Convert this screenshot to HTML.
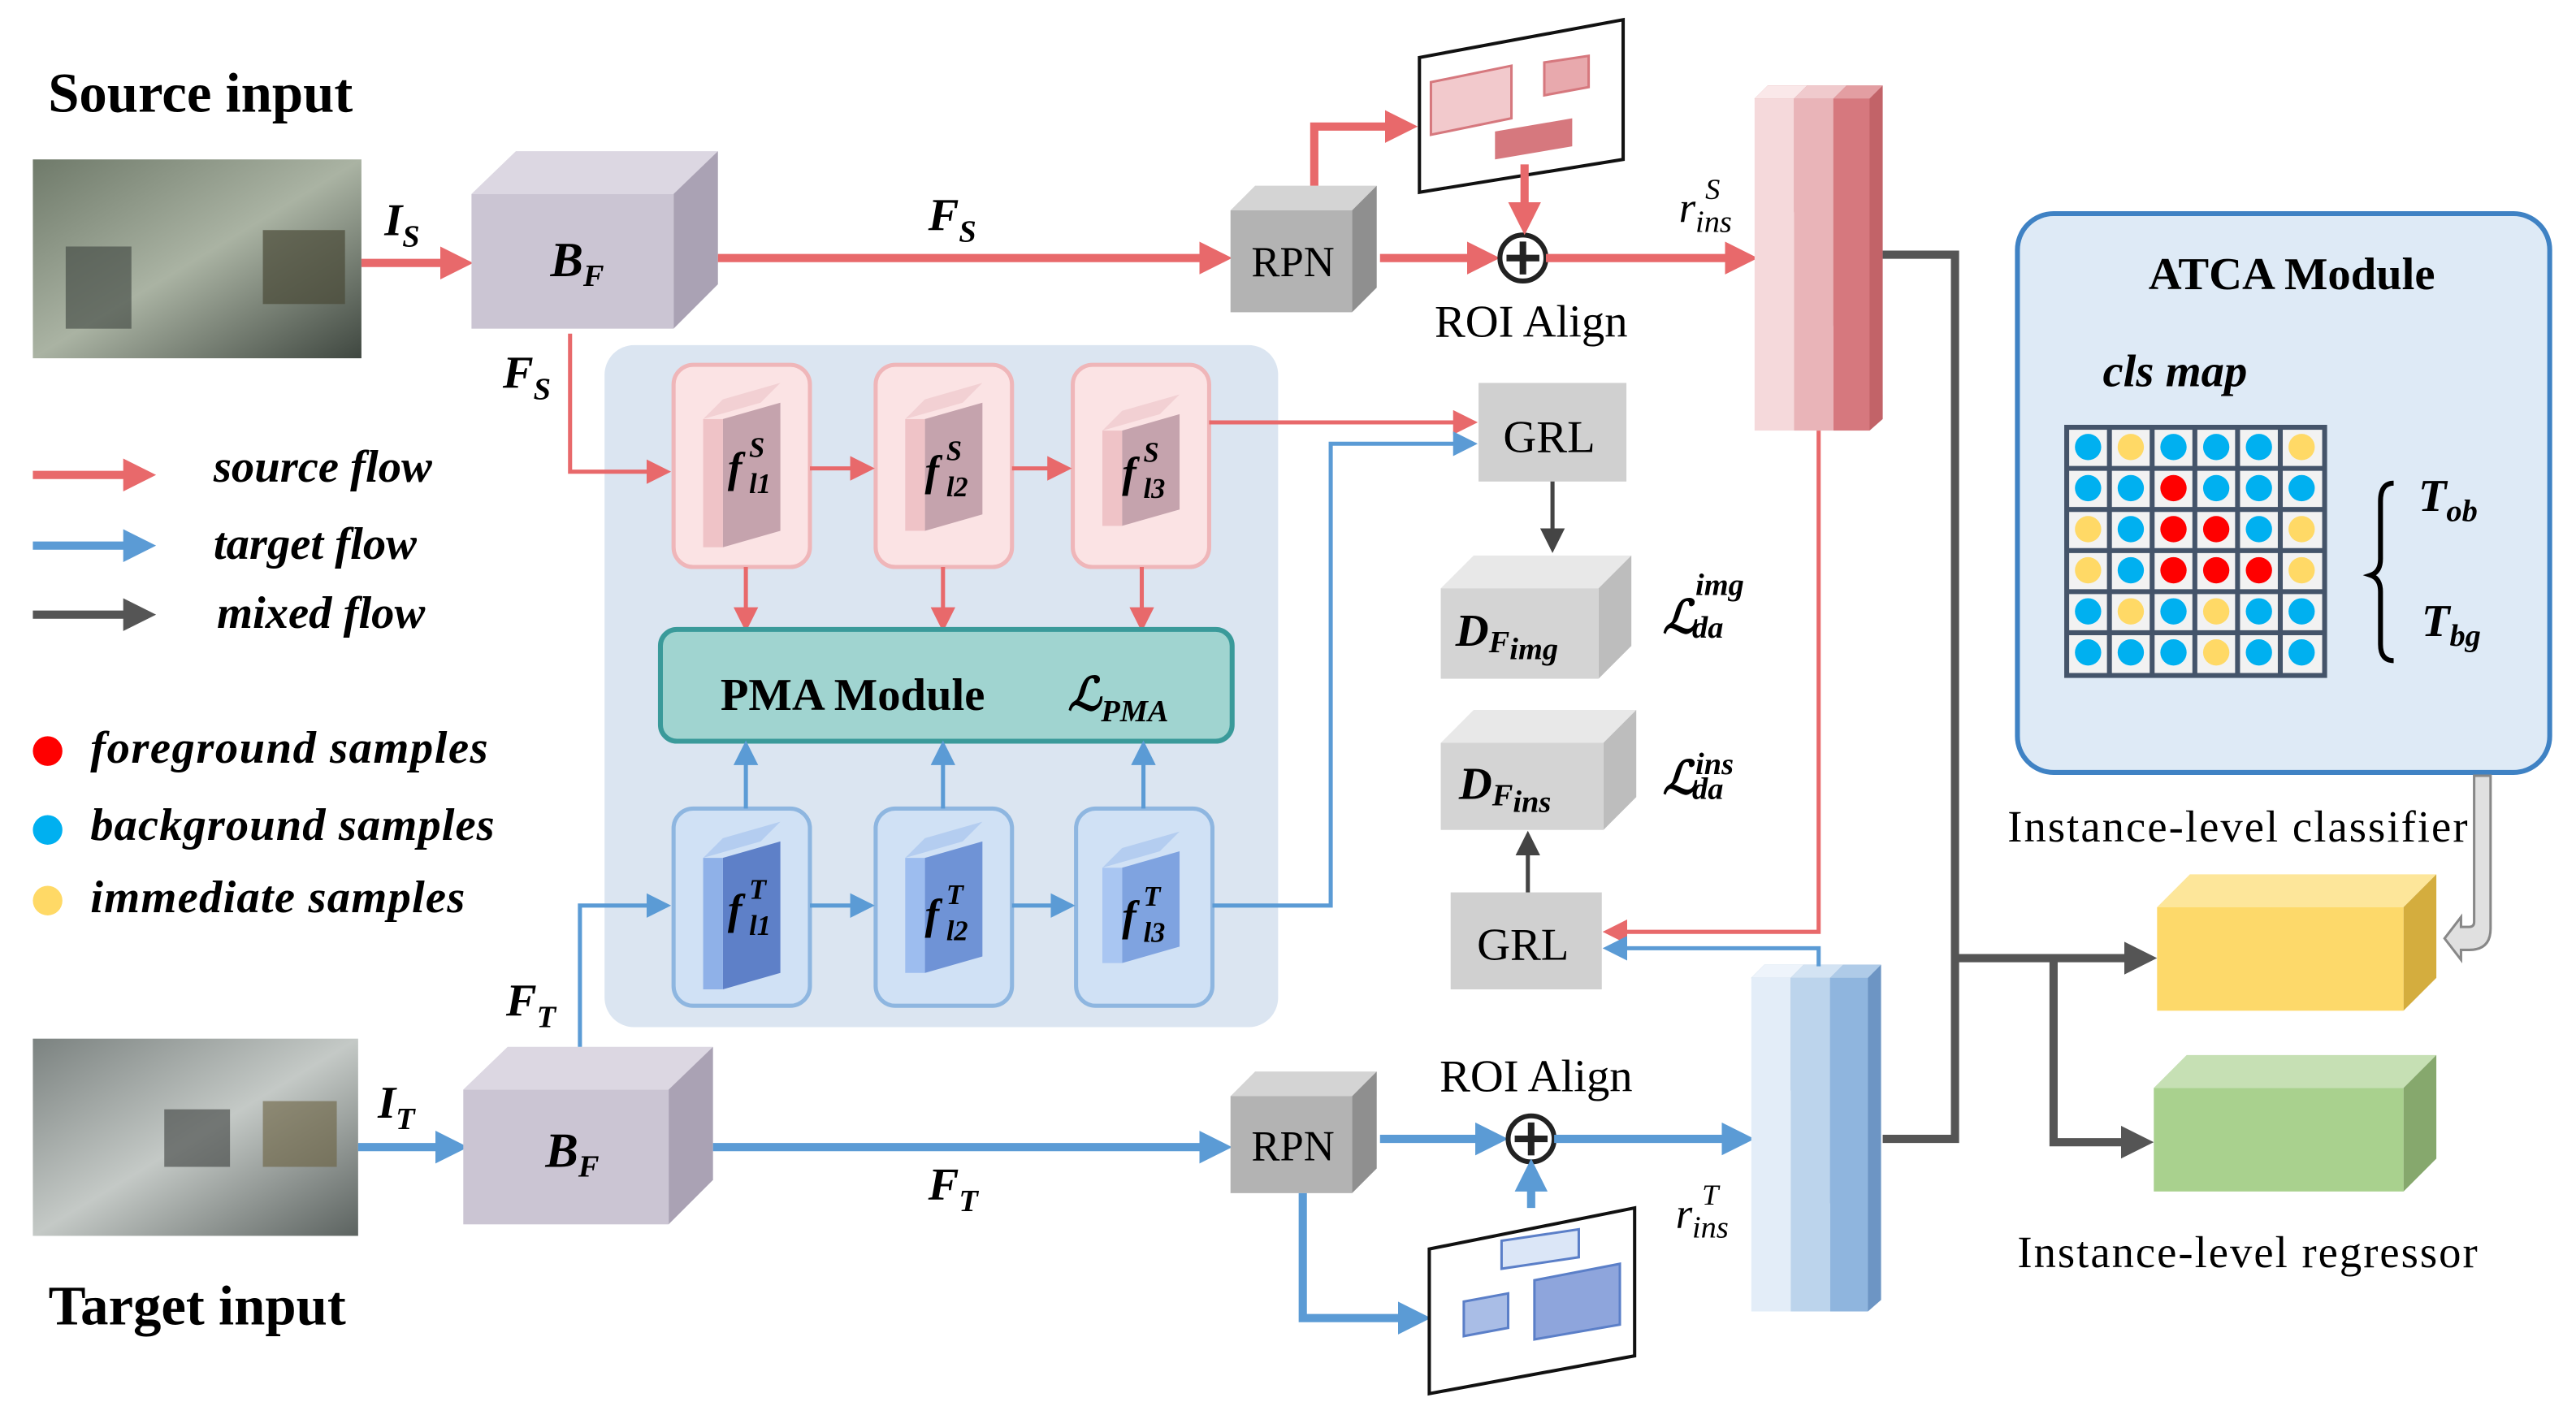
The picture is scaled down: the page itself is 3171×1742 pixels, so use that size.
<!DOCTYPE html>
<html><head><meta charset="utf-8"><style>
html,body{margin:0;padding:0;background:#fff;}
svg{display:block;}
text{font-family:"Liberation Serif",serif;}
.m{font-weight:bold;font-style:italic;}
</style></head><body>
<svg width="3171" height="1742" viewBox="0 0 1568 861" preserveAspectRatio="none" xmlns="http://www.w3.org/2000/svg">
<defs>
<marker id="ar" markerWidth="4" markerHeight="4" refX="3" refY="2" orient="auto" markerUnits="strokeWidth"><path d="M0,0 L4,2 L0,4z" fill="#e8696b"/></marker>
<marker id="ab" markerWidth="4" markerHeight="4" refX="3" refY="2" orient="auto" markerUnits="strokeWidth"><path d="M0,0 L4,2 L0,4z" fill="#5b9bd5"/></marker>
<marker id="ad" markerWidth="4" markerHeight="4" refX="3" refY="2" orient="auto" markerUnits="strokeWidth"><path d="M0,0 L4,2 L0,4z" fill="#555"/></marker>
<marker id="ar2" markerWidth="6" markerHeight="6" refX="5" refY="3" orient="auto" markerUnits="strokeWidth"><path d="M0,0 L6,3 L0,6z" fill="#e8696b"/></marker>
<marker id="ab2" markerWidth="6" markerHeight="6" refX="5" refY="3" orient="auto" markerUnits="strokeWidth"><path d="M0,0 L6,3 L0,6z" fill="#5b9bd5"/></marker>
<marker id="ad2" markerWidth="6" markerHeight="6" refX="5" refY="3" orient="auto" markerUnits="strokeWidth"><path d="M0,0 L6,3 L0,6z" fill="#444"/></marker>
<linearGradient id="img1" x1="0" y1="0" x2="1" y2="1"><stop offset="0" stop-color="#6f7a6a"/><stop offset="0.5" stop-color="#aab3a3"/><stop offset="1" stop-color="#3f4740"/></linearGradient>
<linearGradient id="img2" x1="0" y1="0" x2="1" y2="1"><stop offset="0" stop-color="#7b8280"/><stop offset="0.5" stop-color="#c4c9c6"/><stop offset="1" stop-color="#5c6360"/></linearGradient>
</defs>

<text x="122" y="68" font-size="34" font-weight="bold" text-anchor="middle">Source input</text>
<text x="120" y="806" font-size="34" font-weight="bold" text-anchor="middle">Target input</text>

<rect x="20" y="97" width="200" height="121" fill="url(#img1)"/>
<rect x="40" y="150" width="40" height="50" fill="#3c433d" opacity="0.6"/>
<rect x="160" y="140" width="50" height="45" fill="#4a4a38" opacity="0.7"/>
<rect x="20" y="632" width="198" height="120" fill="url(#img2)"/>
<rect x="100" y="675" width="40" height="35" fill="#3c403e" opacity="0.6"/>
<rect x="160" y="670" width="45" height="40" fill="#6a6040" opacity="0.6"/>

<line x1="20" y1="289" x2="90" y2="289" stroke="#e8696b" stroke-width="5" marker-end="url(#ar)"/>
<line x1="20" y1="332" x2="90" y2="332" stroke="#5b9bd5" stroke-width="5" marker-end="url(#ab)"/>
<line x1="20" y1="374" x2="90" y2="374" stroke="#555" stroke-width="5" marker-end="url(#ad)"/>
<text x="130" y="293" font-size="28" class="m">source flow</text>
<text x="130" y="340" font-size="28" class="m">target flow</text>
<text x="132" y="382" font-size="28" class="m">mixed flow</text>
<circle cx="29" cy="457" r="9" fill="#ff0000"/>
<circle cx="29" cy="505" r="9" fill="#00b0f0"/>
<circle cx="29" cy="548" r="9" fill="#ffd966"/>
<text x="55" y="464" font-size="28" class="m" textLength="242">foreground samples</text>
<text x="55" y="511" font-size="28" class="m" textLength="246">background samples</text>
<text x="55" y="555" font-size="28" class="m" textLength="228">immediate samples</text>

<line x1="220" y1="160" x2="283" y2="160" stroke="#e8696b" stroke-width="5" marker-end="url(#ar)"/>
<text x="234" y="143" font-size="28" class="m">I<tspan font-size="19" dy="7">S</tspan></text>
<line x1="218" y1="698" x2="280" y2="698" stroke="#5b9bd5" stroke-width="5" marker-end="url(#ab)"/>
<text x="230" y="680" font-size="28" class="m">I<tspan font-size="19" dy="7">T</tspan></text>

<g>
<polygon points="287,118 314,92 437,92 410,118" fill="#dcd7e2"/>
<polygon points="410,118 437,92 437,173 410,200" fill="#aaa2b4"/>
<rect x="287" y="118" width="123" height="82" fill="#cbc5d3"/>
<text x="335" y="168" font-size="30" class="m">B<tspan font-size="19" dy="6">F</tspan></text>
</g>
<g>
<polygon points="282,663 309,637 434,637 407,663" fill="#dcd7e2"/>
<polygon points="407,663 434,637 434,718 407,745" fill="#aaa2b4"/>
<rect x="282" y="663" width="125" height="82" fill="#cbc5d3"/>
<text x="332" y="710" font-size="30" class="m">B<tspan font-size="19" dy="6">F</tspan></text>
</g>

<line x1="437" y1="157" x2="745" y2="157" stroke="#e8696b" stroke-width="5" marker-end="url(#ar)"/>
<text x="565" y="140" font-size="28" class="m">F<tspan font-size="19" dy="7">S</tspan></text>
<line x1="434" y1="698" x2="745" y2="698" stroke="#5b9bd5" stroke-width="5" marker-end="url(#ab)"/>
<text x="565" y="730" font-size="28" class="m">F<tspan font-size="19" dy="7">T</tspan></text>

<g>
<polygon points="749,128 764,113 838,113 823,128" fill="#d4d4d4"/>
<polygon points="823,128 838,113 838,175 823,190" fill="#8f8f8f"/>
<rect x="749" y="128" width="74" height="62" fill="#b3b3b3"/>
<text x="787" y="168" font-size="26" text-anchor="middle">RPN</text>
</g>
<g>
<polygon points="749,667 764,652 838,652 823,667" fill="#d4d4d4"/>
<polygon points="823,667 838,652 838,711 823,726" fill="#8f8f8f"/>
<rect x="749" y="667" width="74" height="59" fill="#b3b3b3"/>
<text x="787" y="706" font-size="26" text-anchor="middle">RPN</text>
</g>

<line x1="840" y1="157" x2="908" y2="157" stroke="#e8696b" stroke-width="5" marker-end="url(#ar)"/>
<circle cx="927" cy="157" r="14" fill="#fff" stroke="#222" stroke-width="3"/>
<path d="M917,157 H937 M927,147 V167" stroke="#222" stroke-width="4"/>
<line x1="941" y1="157" x2="1065" y2="157" stroke="#e8696b" stroke-width="5" marker-end="url(#ar)"/>
<text x="932" y="205" font-size="28" text-anchor="middle">ROI Align</text>
<path d="M800,113 V77 H858" fill="none" stroke="#e8696b" stroke-width="5" marker-end="url(#ar)"/>
<polygon points="864,35 988,12 988,97 864,117" fill="#fff" stroke="#111" stroke-width="2"/>
<polygon points="871,50 920,40 920,72 871,82" fill="#f2c9cc" stroke="#d6787e" stroke-width="1.5"/>
<polygon points="940,38 967,34 967,53 940,58" fill="#e8a9ad" stroke="#d6787e" stroke-width="1.5"/>
<polygon points="910,80 957,72 957,89 910,97" fill="#d6787e"/>
<line x1="928" y1="100" x2="928" y2="138" stroke="#e8696b" stroke-width="5" marker-end="url(#ar)"/>
<text x="1022" y="135" font-size="26" font-style="italic">r</text>
<text x="1032" y="141" font-size="19" font-style="italic">ins</text>
<text x="1038" y="121" font-size="18" font-style="italic">S</text>

<line x1="840" y1="693" x2="913" y2="693" stroke="#5b9bd5" stroke-width="5" marker-end="url(#ab)"/>
<circle cx="932" cy="693" r="14" fill="#fff" stroke="#222" stroke-width="3"/>
<path d="M922,693 H942 M932,683 V703" stroke="#222" stroke-width="4"/>
<line x1="946" y1="693" x2="1063" y2="693" stroke="#5b9bd5" stroke-width="5" marker-end="url(#ab)"/>
<text x="935" y="664" font-size="28" text-anchor="middle">ROI Align</text>
<path d="M793,726 V802 H866" fill="none" stroke="#5b9bd5" stroke-width="5" marker-end="url(#ab)"/>
<polygon points="870,760 995,735 995,825 870,848" fill="#fff" stroke="#111" stroke-width="2"/>
<polygon points="914,755 961,748 961,765 914,772" fill="#dbe6f7" stroke="#5b7fc8" stroke-width="1.5"/>
<polygon points="891,792 918,787 918,808 891,813" fill="#a9bde6" stroke="#5b7fc8" stroke-width="1.5"/>
<polygon points="934,779 986,769 986,806 934,815" fill="#8ea5dc" stroke="#5b7fc8" stroke-width="1.5"/>
<line x1="932" y1="735" x2="932" y2="710" stroke="#5b9bd5" stroke-width="5" marker-end="url(#ab)"/>
<text x="1020" y="747" font-size="26" font-style="italic">r</text>
<text x="1030" y="753" font-size="19" font-style="italic">ins</text>
<text x="1036" y="733" font-size="18" font-style="italic">T</text>

<polygon points="1068,60 1076,52 1146,52 1146,255 1138,262" fill="#c26368"/>
<rect x="1068" y="60" width="24" height="202" fill="#f5d9db"/>
<polygon points="1068,60 1076,52 1100,52 1092,60" fill="#fae8e9"/>
<rect x="1092" y="60" width="24" height="202" fill="#e9b4b8"/>
<polygon points="1092,60 1100,52 1124,52 1116,60" fill="#f0cacd"/>
<rect x="1116" y="60" width="22" height="202" fill="#d6787e"/>
<polygon points="1116,60 1124,52 1146,52 1138,60" fill="#e39ea2"/>
<polygon points="1066,595 1074,587 1145,587 1145,791 1137,798" fill="#6d95c4"/>
<rect x="1066" y="595" width="24" height="203" fill="#e3edf8"/>
<polygon points="1066,595 1074,587 1098,587 1090,595" fill="#eef4fb"/>
<rect x="1090" y="595" width="24" height="203" fill="#bcd4ec"/>
<polygon points="1090,595 1098,587 1122,587 1114,595" fill="#d3e3f3"/>
<rect x="1114" y="595" width="23" height="203" fill="#8fb5de"/>
<polygon points="1114,595 1122,587 1145,587 1137,595" fill="#afcbe8"/>

<path d="M1146,155 H1190 V693 H1146" fill="none" stroke="#555" stroke-width="5"/>
<line x1="1190" y1="583" x2="1308" y2="583" stroke="#555" stroke-width="5" marker-end="url(#ad)"/>
<path d="M1250,583 V695 H1306" fill="none" stroke="#555" stroke-width="5" marker-end="url(#ad)"/>

<rect x="1228" y="130" width="324" height="340" rx="22" fill="#deeaf6" stroke="#3f82c4" stroke-width="3"/>
<text x="1395" y="176" font-size="28" font-weight="bold" text-anchor="middle">ATCA Module</text>
<text x="1280" y="235" font-size="28" class="m">cls map</text>
<rect x="1258" y="260" width="157" height="151" fill="#f2f2f2" stroke="#44546a" stroke-width="3"/>
<path d="M1284,260V411 M1310,260V411 M1336,260V411 M1362,260V411 M1388,260V411 M1258,285H1415 M1258,310H1415 M1258,335H1415 M1258,360H1415 M1258,385H1415" stroke="#44546a" stroke-width="3"/>
<g>
<circle cx="1271" cy="272" r="8" fill="#00b0f0"/><circle cx="1297" cy="272" r="8" fill="#ffd966"/><circle cx="1323" cy="272" r="8" fill="#00b0f0"/><circle cx="1349" cy="272" r="8" fill="#00b0f0"/><circle cx="1375" cy="272" r="8" fill="#00b0f0"/><circle cx="1401" cy="272" r="8" fill="#ffd966"/>
<circle cx="1271" cy="297" r="8" fill="#00b0f0"/><circle cx="1297" cy="297" r="8" fill="#00b0f0"/><circle cx="1323" cy="297" r="8" fill="#ff0000"/><circle cx="1349" cy="297" r="8" fill="#00b0f0"/><circle cx="1375" cy="297" r="8" fill="#00b0f0"/><circle cx="1401" cy="297" r="8" fill="#00b0f0"/>
<circle cx="1271" cy="322" r="8" fill="#ffd966"/><circle cx="1297" cy="322" r="8" fill="#00b0f0"/><circle cx="1323" cy="322" r="8" fill="#ff0000"/><circle cx="1349" cy="322" r="8" fill="#ff0000"/><circle cx="1375" cy="322" r="8" fill="#00b0f0"/><circle cx="1401" cy="322" r="8" fill="#ffd966"/>
<circle cx="1271" cy="347" r="8" fill="#ffd966"/><circle cx="1297" cy="347" r="8" fill="#00b0f0"/><circle cx="1323" cy="347" r="8" fill="#ff0000"/><circle cx="1349" cy="347" r="8" fill="#ff0000"/><circle cx="1375" cy="347" r="8" fill="#ff0000"/><circle cx="1401" cy="347" r="8" fill="#ffd966"/>
<circle cx="1271" cy="372" r="8" fill="#00b0f0"/><circle cx="1297" cy="372" r="8" fill="#ffd966"/><circle cx="1323" cy="372" r="8" fill="#00b0f0"/><circle cx="1349" cy="372" r="8" fill="#ffd966"/><circle cx="1375" cy="372" r="8" fill="#00b0f0"/><circle cx="1401" cy="372" r="8" fill="#00b0f0"/>
<circle cx="1271" cy="397" r="8" fill="#00b0f0"/><circle cx="1297" cy="397" r="8" fill="#00b0f0"/><circle cx="1323" cy="397" r="8" fill="#00b0f0"/><circle cx="1349" cy="397" r="8" fill="#ffd966"/><circle cx="1375" cy="397" r="8" fill="#00b0f0"/><circle cx="1401" cy="397" r="8" fill="#00b0f0"/>
</g>
<path d="M1457,294 Q1449,294 1449,305 V340 Q1449,348 1443,350 Q1449,352 1449,360 V392 Q1449,402 1457,402" fill="none" stroke="#000" stroke-width="3"/>
<text x="1472" y="311" font-size="28" class="m">T<tspan font-size="19" dy="6">ob</tspan></text>
<text x="1474" y="387" font-size="28" class="m">T<tspan font-size="19" dy="6">bg</tspan></text>
<text x="1362" y="512" font-size="27" text-anchor="middle" textLength="280">Instance-level classifier</text>

<path d="M1516,472 V565 Q1516,578 1503,578 H1498 V584 L1488,571 L1498,558 V564 H1503 Q1506,564 1506,561 V472 Z" fill="#e0e0e0" stroke="#888" stroke-width="1.5"/>

<polygon points="1313,552 1333,532 1483,532 1463,552" fill="#fde69a"/>
<polygon points="1463,552 1483,532 1483,595 1463,615" fill="#d4ad3e"/>
<rect x="1313" y="552" width="150" height="63" fill="#fdd96a"/>
<polygon points="1311,662 1331,642 1483,642 1463,662" fill="#c6e0b4"/>
<polygon points="1463,662 1483,642 1483,705 1463,725" fill="#86a86d"/>
<rect x="1311" y="662" width="152" height="63" fill="#a9d18e"/>
<text x="1368" y="771" font-size="27" text-anchor="middle" textLength="280">Instance-level regressor</text>

<rect x="368" y="210" width="410" height="415" rx="18" fill="#dbe5f1"/>
<text x="306" y="236" font-size="28" class="m">F<tspan font-size="19" dy="7">S</tspan></text>
<path d="M347,203 V287 H406" fill="none" stroke="#e8696b" stroke-width="2.5" marker-end="url(#ar2)"/>
<text x="308" y="618" font-size="28" class="m">F<tspan font-size="19" dy="7">T</tspan></text>
<path d="M353,637 V551 H406" fill="none" stroke="#5b9bd5" stroke-width="2.5" marker-end="url(#ab2)"/>

<g fill="#fbe3e4" stroke="#efb6b9" stroke-width="2.5">
<rect x="410" y="222" width="83" height="123" rx="12"/>
<rect x="533" y="222" width="83" height="123" rx="12"/>
<rect x="653" y="222" width="83" height="123" rx="12"/>
</g>
<g>
<polygon points="428,255 440,243 475,233 463,245" fill="#f2d0d3"/>
<polygon points="440,255 475,245 475,323 440,333" fill="#c5a3ad"/><rect x="428" y="255" width="12" height="78" fill="#efc3c7"/>
<polygon points="551,255 563,243 598,233 586,245" fill="#f2d0d3"/>
<polygon points="563,255 598,245 598,313 563,323" fill="#c5a3ad"/><rect x="551" y="255" width="12" height="68" fill="#efc3c7"/>
<polygon points="671,262 683,250 718,240 706,252" fill="#f2d0d3"/>
<polygon points="683,262 718,252 718,310 683,320" fill="#c5a3ad"/><rect x="671" y="262" width="12" height="58" fill="#efc3c7"/>
</g>
<text x="443" y="293" font-size="26" class="m">f</text><text x="456" y="300" font-size="17" class="m">l1</text><text x="456" y="278" font-size="17" class="m">S</text>
<text x="563" y="295" font-size="26" class="m">f</text><text x="576" y="302" font-size="17" class="m">l2</text><text x="576" y="280" font-size="17" class="m">S</text>
<text x="683" y="296" font-size="26" class="m">f</text><text x="696" y="303" font-size="17" class="m">l3</text><text x="696" y="281" font-size="17" class="m">S</text>
<line x1="493" y1="285" x2="530" y2="285" stroke="#e8696b" stroke-width="2.5" marker-end="url(#ar2)"/>
<line x1="616" y1="285" x2="650" y2="285" stroke="#e8696b" stroke-width="2.5" marker-end="url(#ar2)"/>
<line x1="454" y1="345" x2="454" y2="382" stroke="#e8696b" stroke-width="2.5" marker-end="url(#ar2)"/>
<line x1="574" y1="345" x2="574" y2="382" stroke="#e8696b" stroke-width="2.5" marker-end="url(#ar2)"/>
<line x1="695" y1="345" x2="695" y2="382" stroke="#e8696b" stroke-width="2.5" marker-end="url(#ar2)"/>

<rect x="402" y="383" width="348" height="68" rx="10" fill="#a0d4d0" stroke="#3a9a9a" stroke-width="3"/>
<text x="519" y="432" font-size="28" font-weight="bold" text-anchor="middle">PMA Module</text>
<text x="650" y="432" font-size="28" class="m">ℒ<tspan font-size="19" dy="7">PMA</tspan></text>

<g fill="#d0e1f5" stroke="#8eb6e0" stroke-width="2.5">
<rect x="410" y="492" width="83" height="120" rx="12"/>
<rect x="533" y="492" width="83" height="120" rx="12"/>
<rect x="655" y="492" width="83" height="120" rx="12"/>
</g>
<g>
<polygon points="428,522 440,510 475,500 463,512" fill="#b4cdf0"/>
<polygon points="440,522 475,512 475,592 440,602" fill="#5e80c8"/><rect x="428" y="522" width="12" height="80" fill="#8fb1e8"/>
<polygon points="551,522 563,510 598,500 586,512" fill="#b4cdf0"/>
<polygon points="563,522 598,512 598,582 563,592" fill="#6f93d6"/><rect x="551" y="522" width="12" height="70" fill="#9dbdef"/>
<polygon points="671,528 683,516 718,506 706,518" fill="#b4cdf0"/>
<polygon points="683,528 718,518 718,576 683,586" fill="#7fa3e0"/><rect x="671" y="528" width="12" height="58" fill="#a9c6f2"/>
</g>
<text x="443" y="562" font-size="26" class="m">f</text><text x="456" y="569" font-size="17" class="m">l1</text><text x="456" y="547" font-size="17" class="m">T</text>
<text x="563" y="565" font-size="26" class="m">f</text><text x="576" y="572" font-size="17" class="m">l2</text><text x="576" y="550" font-size="17" class="m">T</text>
<text x="683" y="566" font-size="26" class="m">f</text><text x="696" y="573" font-size="17" class="m">l3</text><text x="696" y="551" font-size="17" class="m">T</text>
<line x1="493" y1="551" x2="530" y2="551" stroke="#5b9bd5" stroke-width="2.5" marker-end="url(#ab2)"/>
<line x1="616" y1="551" x2="652" y2="551" stroke="#5b9bd5" stroke-width="2.5" marker-end="url(#ab2)"/>
<line x1="454" y1="492" x2="454" y2="453" stroke="#5b9bd5" stroke-width="2.5" marker-end="url(#ab2)"/>
<line x1="574" y1="492" x2="574" y2="453" stroke="#5b9bd5" stroke-width="2.5" marker-end="url(#ab2)"/>
<line x1="696" y1="492" x2="696" y2="453" stroke="#5b9bd5" stroke-width="2.5" marker-end="url(#ab2)"/>

<line x1="736" y1="257" x2="897" y2="257" stroke="#e8696b" stroke-width="2.5" marker-end="url(#ar2)"/>
<path d="M738,551 H810 V270 H897" fill="none" stroke="#5b9bd5" stroke-width="2.5" marker-end="url(#ab2)"/>
<rect x="900" y="233" width="90" height="60" fill="#d0d0d0"/>
<text x="943" y="275" font-size="28" text-anchor="middle">GRL</text>
<line x1="945" y1="293" x2="945" y2="334" stroke="#444" stroke-width="2.5" marker-end="url(#ad2)"/>

<polygon points="877,358 897,338 993,338 973,358" fill="#e8e8e8"/>
<polygon points="973,358 993,338 993,393 973,413" fill="#bdbdbd"/>
<rect x="877" y="358" width="96" height="55" fill="#d4d4d4"/>
<text x="886" y="393" font-size="28" class="m">D<tspan font-size="19" dy="4">F</tspan><tspan font-size="19" dy="4">img</tspan></text>
<polygon points="877,452 897,432 996,432 976,452" fill="#e8e8e8"/>
<polygon points="976,452 996,432 996,485 976,505" fill="#bdbdbd"/>
<rect x="877" y="452" width="99" height="53" fill="#d4d4d4"/>
<text x="888" y="486" font-size="28" class="m">D<tspan font-size="19" dy="4">F</tspan><tspan font-size="19" dy="4">ins</tspan></text>
<text x="1012" y="385" font-size="28" class="m">ℒ</text><text x="1030" y="388" font-size="19" class="m">da</text><text x="1032" y="362" font-size="19" class="m">img</text>
<text x="1012" y="483" font-size="28" class="m">ℒ</text><text x="1030" y="486" font-size="19" class="m">da</text><text x="1032" y="471" font-size="19" class="m">ins</text>

<rect x="883" y="543" width="92" height="59" fill="#d0d0d0"/>
<text x="927" y="584" font-size="28" text-anchor="middle">GRL</text>
<line x1="930" y1="543" x2="930" y2="508" stroke="#444" stroke-width="2.5" marker-end="url(#ad2)"/>
<path d="M1107,262 V567 H978" fill="none" stroke="#e8696b" stroke-width="2.5" marker-end="url(#ar2)"/>
<path d="M1107,588 V577 H978" fill="none" stroke="#5b9bd5" stroke-width="2.5" marker-end="url(#ab2)"/>
</svg>
</body></html>
